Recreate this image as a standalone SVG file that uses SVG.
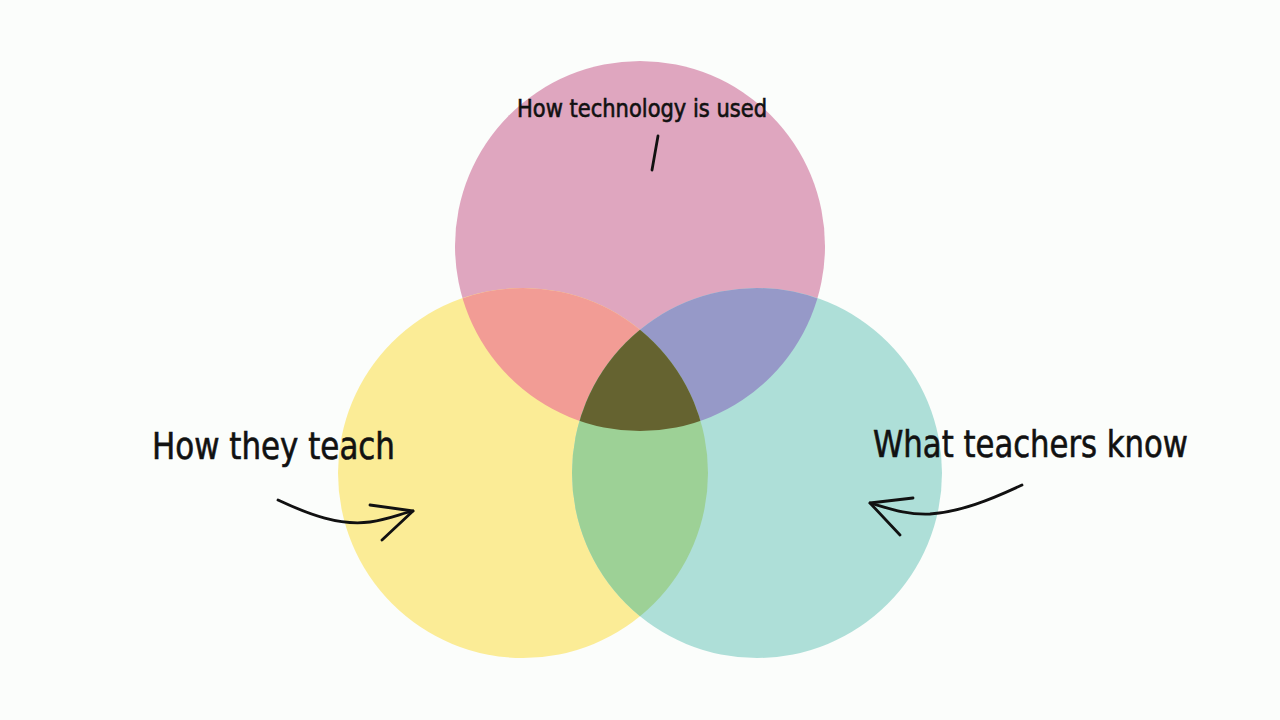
<svg xmlns="http://www.w3.org/2000/svg" width="1280" height="720" viewBox="0 0 1280 720">
<style>
.lbl{font-family:"DejaVu Sans Condensed","Liberation Sans",sans-serif;fill:#111;stroke:#111;stroke-width:0.6;}
.ink{fill:none;stroke:#111;stroke-width:2.8;stroke-linecap:round;stroke-linejoin:round;}
</style>
<defs>
<clipPath id="cP"><circle cx="640" cy="246" r="185"/></clipPath>
<clipPath id="cY"><circle cx="523" cy="473" r="185"/></clipPath>
<clipPath id="cT"><circle cx="757" cy="473" r="185"/></clipPath>
</defs>
<rect width="1280" height="720" fill="#fbfdfb"/>
<g id="circle-technology"><circle cx="640" cy="246" r="185" fill="#dfa6bf"/></g>
<g id="circle-teach"><circle cx="523" cy="473" r="185" fill="#fbec96"/></g>
<g id="circle-know"><circle cx="757" cy="473" r="185" fill="#aedfd8"/></g>
<g id="overlaps">
<circle cx="523" cy="473" r="185" fill="#f29c95" clip-path="url(#cP)"/>
<circle cx="757" cy="473" r="185" fill="#9699c8" clip-path="url(#cP)"/>
<g clip-path="url(#cY)"><circle cx="757" cy="473" r="185" fill="#9dd196"/></g>
<g clip-path="url(#cP)"><g clip-path="url(#cY)"><circle cx="757" cy="473" r="185" fill="#656330"/></g></g>
</g>
<g id="label-technology">
<text class="lbl" x="642" y="117" font-size="25" text-anchor="middle" textLength="250" lengthAdjust="spacingAndGlyphs">How technology is used</text>
<path class="ink" d="M658 136 L652 170"/>
</g>
<g id="label-teach">
<text class="lbl" x="152" y="459" font-size="38" textLength="243" lengthAdjust="spacingAndGlyphs">How they teach</text>
</g>
<g id="label-know">
<text class="lbl" x="873" y="457" font-size="38" textLength="315" lengthAdjust="spacingAndGlyphs">What teachers know</text>
</g>
<g id="connectors">
<path class="ink" d="M278 500 C310 515 340 526 370 522 C390 519 400 514 413 511"/>
<path class="ink" d="M370 505 L413 511 L382 540"/>
<path class="ink" d="M1022 485 C990 500 960 512 930 514 C905 515 888 508 870 503"/>
<path class="ink" d="M913 498 L870 503 L900 535"/>
</g>
</svg>
